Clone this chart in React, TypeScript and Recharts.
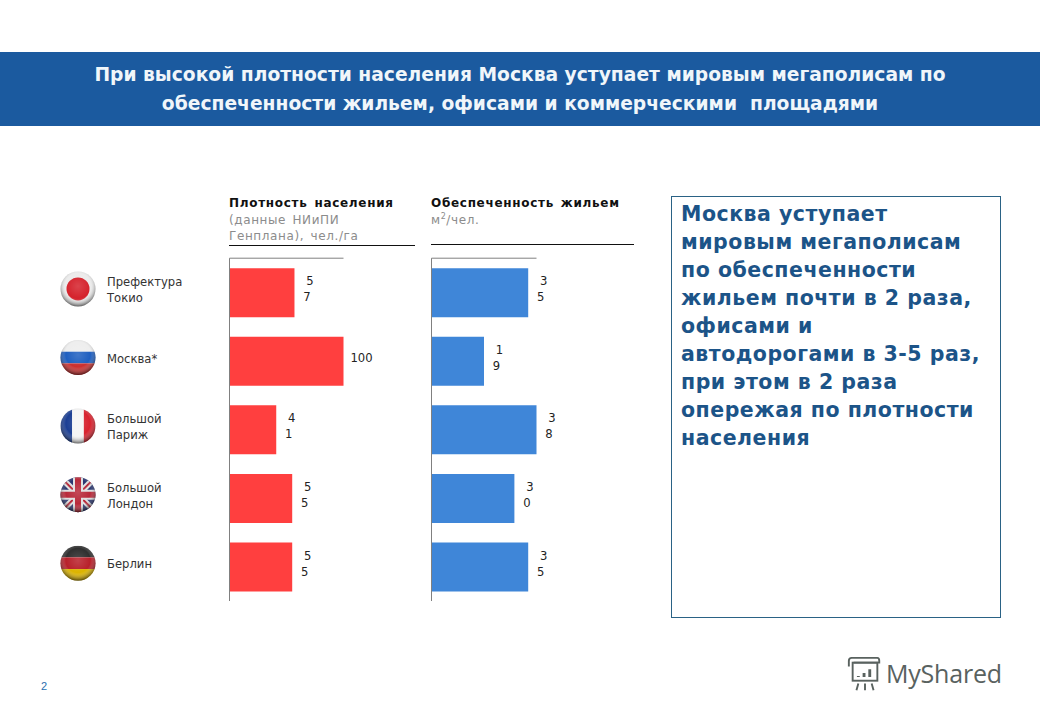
import React from "react";
import { BarChart, Bar, XAxis, YAxis, LabelList } from "recharts";

const categories = ["Префектура Токио", "Москва*", "Большой Париж", "Большой Лондон", "Берлин"];
const categoryLines = [["Префектура", "Токио"], ["Москва*"], ["Большой", "Париж"], ["Большой", "Лондон"], ["Берлин"]];
const densityValues = [57, 100, 41, 55, 55];
const housingValues = [35, 19, 38, 30, 35];
const titleLines = [
  "При высокой плотности населения Москва уступает мировым мегаполисам по",
  "обеспеченности жильем, офисами и коммерческими  площадями",
];
const noteLines = [
  "Москва уступает",
  "мировым мегаполисам",
  "по обеспеченности",
  "жильем почти в 2 раза,",
  "офисами и",
  "автодорогами в 3-5 раз,",
  "при этом в 2 раза",
  "опережая по плотности",
  "населения",
];

const densityData = categories.map((name, i) => ({ name, value: densityValues[i] }));
const housingData = categories.map((name, i) => ({ name, value: housingValues[i] }));

const FONT = "'DejaVu Sans', sans-serif";
const SMALL = 11.6;

const Shade = ({ id }: { id: string }) => (
  <defs>
    <radialGradient id={id} cx="50%" cy="42%" r="58%">
      <stop offset="0%" stopColor="#fff" stopOpacity={0.15} />
      <stop offset="60%" stopColor="#fff" stopOpacity={0} />
      <stop offset="100%" stopColor="#000" stopOpacity={0.6} />
    </radialGradient>
    <clipPath id={id + "c"}>
      <circle r={17.5} />
    </clipPath>
  </defs>
);

const stripes = (cols: string[], horizontal: boolean) =>
  cols.map((c, i) => {
    const s = 35 / cols.length;
    return horizontal ? (
      <rect key={i} x={-18} y={-17.5 + i * s} width={36} height={s} fill={c} />
    ) : (
      <rect key={i} x={-17.5 + i * s} y={-18} width={s} height={36} fill={c} />
    );
  });

const flagBody = (i: number) => {
  if (i === 0)
    return (
      <>
        <rect x={-18} y={-18} width={36} height={36} fill="#ececec" />
        <circle r={11.5} fill="#d5222c" />
      </>
    );
  if (i === 1) return stripes(["#eeeeee", "#1f5fc0", "#cc3030"], true);
  if (i === 2) return stripes(["#1c3f94", "#f5f5f5", "#d8232f"], false);
  if (i === 3)
    return (
      <>
        <rect x={-18} y={-18} width={36} height={36} fill="#27346e" />
        <path d="M-18 -18L18 18M18 -18L-18 18" stroke="#e0e0e0" strokeWidth={6} />
        <path d="M-18 -18L18 18M18 -18L-18 18" stroke="#b82a3a" strokeWidth={2} />
        <path d="M0 -18V18M-18 0H18" stroke="#e0e0e0" strokeWidth={10} />
        <path d="M0 -18V18M-18 0H18" stroke="#b82a3a" strokeWidth={6} />
      </>
    );
  return stripes(["#303030", "#b8202a", "#dcb400"], true);
};

const CategoryTick = (props: any) => {
  const { y, index } = props;
  const lines = categoryLines[index] ?? [];
  const cy = y - 3.5;
  const id = "flag" + index;
  return (
    <g>
      <g transform={`translate(78,${cy})`}>
        <Shade id={id} />
        <g clipPath={`url(#${id}c)`}>{flagBody(index)}</g>
        <circle r={17.5} fill={`url(#${id})`} />
      </g>
      {lines.map((t: string, k: number) => (
        <text
          key={k}
          x={107}
          y={cy + 1 + (k - (lines.length - 1) / 2) * 16}
          dy="0.36em"
          fontFamily={FONT}
          fontSize={SMALL}
          fill="#333"
        >
          {t}
        </text>
      ))}
    </g>
  );
};

const DigitLabel = (props: any) => {
  const { x, y, width, height, value } = props;
  const s = String(value);
  const right = x + width;
  const cy = y + height / 2;
  const common = { fontFamily: FONT, fontSize: SMALL, fill: "#222", dy: "0.36em", textAnchor: "middle" as const };
  if (s.length > 2) {
    return (
      <text {...common} x={right + 18} y={cy - 3}>
        {s}
      </text>
    );
  }
  return (
    <g>
      <text {...common} x={right + 15.5} y={cy - 11.5}>
        {s[0]}
      </text>
      <text {...common} x={right + 12.5} y={cy + 4.5}>
        {s[1]}
      </text>
    </g>
  );
};

const Abs = ({ x, y, style, children }: any) => (
  <div style={{ position: "absolute", left: x, top: y, whiteSpace: "pre", fontFamily: FONT, lineHeight: 1, ...style }}>
    {children}
  </div>
);

const AXIS = "#808080";
const HEAD = { fontSize: 12, fontWeight: 700, color: "#111", wordSpacing: 2, letterSpacing: 0.7 };
const SUB = { fontSize: 12, color: "#8c8c8c", wordSpacing: 2, letterSpacing: 0.6 };

export default function App() {
  return (
    <div style={{ position: "absolute", left: 0, top: 0, width: 1040, height: 720, background: "#fff", overflow: "hidden" }}>
      <div style={{ position: "absolute", left: 0, top: 52, width: 1040, height: 74, background: "#1b5a9f" }} />
      {titleLines.map((t, i) => (
        <div
          key={i}
          style={{
            position: "absolute",
            left: 0,
            width: 1040,
            top: 64 + i * 29,
            textAlign: "center",
            color: "#f0f6fa",
            whiteSpace: "pre",
            fontFamily: FONT,
            fontWeight: 700,
            fontSize: 18.7,
            lineHeight: "22px",
          }}
        >
          {t}
        </div>
      ))}

      <Abs x={229} y={197} style={HEAD}>Плотность населения</Abs>
      <Abs x={229} y={214} style={SUB}>(данные НИиПИ</Abs>
      <Abs x={229} y={230} style={SUB}>Генплана), чел./га</Abs>
      <div style={{ position: "absolute", left: 229, top: 245, width: 186, height: 1, background: "#111" }} />

      <Abs x={431} y={197} style={HEAD}>Обеспеченность жильем</Abs>
      <Abs x={431} y={214} style={SUB}>
        м<sup style={{ fontSize: 8, lineHeight: 0 }}>2</sup>/чел.
      </Abs>
      <div style={{ position: "absolute", left: 431, top: 244, width: 203, height: 1, background: "#111" }} />

      <div style={{ position: "absolute", left: 0, top: 250 }}>
        <BarChart
          width={420}
          height={361}
          layout="vertical"
          data={densityData}
          margin={{ top: 7.2, right: 76.5, bottom: 10, left: 0 }}
        >
          <XAxis type="number" orientation="top" domain={[0, 100]} height={1} tick={false} tickLine={false} axisLine={{ stroke: AXIS }} />
          <YAxis type="category" dataKey="name" width={229.5} interval={0} tick={<CategoryTick />} tickLine={false} axisLine={{ stroke: AXIS }} />
          <Bar dataKey="value" fill="#ff3f3f" barSize={49} isAnimationActive={false}>
            <LabelList dataKey="value" content={<DigitLabel />} />
          </Bar>
        </BarChart>
      </div>

      <div style={{ position: "absolute", left: 420, top: 250 }}>
        <BarChart
          width={220}
          height={361}
          layout="vertical"
          data={housingData}
          margin={{ top: 7.2, right: 103.5, bottom: 10, left: 0 }}
        >
          <XAxis type="number" orientation="top" domain={[0, 38]} height={1} tick={false} tickLine={false} axisLine={{ stroke: AXIS }} />
          <YAxis type="category" dataKey="name" width={11.5} interval={0} tick={false} tickLine={false} axisLine={{ stroke: AXIS }} />
          <Bar dataKey="value" fill="#3f86d8" barSize={49} isAnimationActive={false}>
            <LabelList dataKey="value" content={<DigitLabel />} />
          </Bar>
        </BarChart>
      </div>

      <div style={{ position: "absolute", left: 671, top: 196, width: 328, height: 420, border: "1px solid #2a6285" }} />
      {noteLines.map((t, i) => (
        <Abs key={i} x={681} y={203 + i * 28} style={{ fontSize: 20.5, lineHeight: "23px", fontWeight: 700, color: "#1c5488", letterSpacing: 0.5 }}>
          {t}
        </Abs>
      ))}

      <Abs x={41} y={681} style={{ fontSize: 11, color: "#2a6fb0", fontFamily: "'Liberation Sans', sans-serif" }}>2</Abs>

      <svg style={{ position: "absolute", left: 846, top: 656 }} width={38} height={38} viewBox="0 0 40 40" fill="none" stroke="#59625f" strokeWidth={2}>
        <path d="M3 11V5q0-3 3-3h27q2 0 2 3v2H8" />
        <rect x={7} y={7} width={26} height={19} />
        <path d="M13 29l-2 7M20 29v7M27 29l2 7" />
        <path d="M13 22v-1M19 22v-4M25 22v-8" strokeWidth={3} />
      </svg>
      <Abs x={886} y={661} style={{ fontSize: 25, color: "#59625f", fontFamily: "'Open Sans', sans-serif", letterSpacing: -0.2 }}>MyShared</Abs>
    </div>
  );
}
